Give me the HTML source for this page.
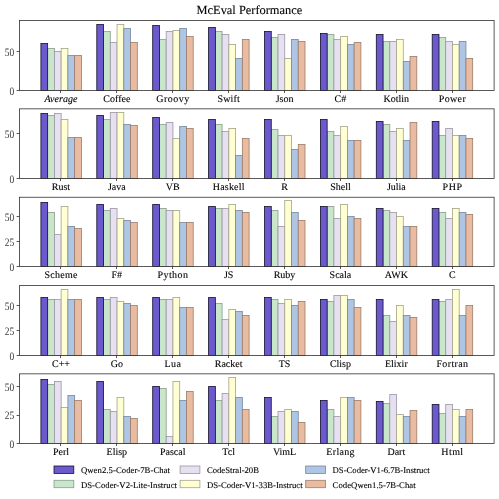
<!DOCTYPE html><html><head><meta charset="utf-8"><title>McEval Performance</title><style>html,body{margin:0;padding:0;background:#fff}svg{display:block}text{text-rendering:geometricPrecision;font-family:"Liberation Serif",serif;fill:#000;stroke:#000;stroke-width:0.1px}.yt{fill:#3a3a3a;stroke:none}</style></head><body>
<svg width="499" height="499" viewBox="0 0 499 499">
<rect width="499" height="499" fill="#fff"/>
<text x="249.4" y="13.5" text-anchor="middle" font-size="12.4">McEval Performance</text>
<rect x="47.65" y="48.50" width="6.75" height="41.95" fill="#C8E6C9" stroke="#8c9c8c" stroke-width="0.8"/>
<rect x="103.55" y="31.50" width="6.75" height="58.95" fill="#C8E6C9" stroke="#8c9c8c" stroke-width="0.8"/>
<rect x="159.45" y="39.50" width="6.75" height="50.95" fill="#C8E6C9" stroke="#8c9c8c" stroke-width="0.8"/>
<rect x="215.35" y="31.50" width="6.75" height="58.95" fill="#C8E6C9" stroke="#8c9c8c" stroke-width="0.8"/>
<rect x="271.25" y="37.50" width="6.75" height="52.95" fill="#C8E6C9" stroke="#8c9c8c" stroke-width="0.8"/>
<rect x="327.15" y="34.50" width="6.75" height="55.95" fill="#C8E6C9" stroke="#8c9c8c" stroke-width="0.8"/>
<rect x="383.05" y="41.50" width="6.75" height="48.95" fill="#C8E6C9" stroke="#8c9c8c" stroke-width="0.8"/>
<rect x="438.95" y="37.50" width="6.75" height="52.95" fill="#C8E6C9" stroke="#8c9c8c" stroke-width="0.8"/>
<rect x="54.40" y="51.50" width="6.75" height="38.95" fill="#E6E0F0" stroke="#9a96a4" stroke-width="0.8"/>
<rect x="110.30" y="42.50" width="6.75" height="47.95" fill="#E6E0F0" stroke="#9a96a4" stroke-width="0.8"/>
<rect x="166.20" y="31.50" width="6.75" height="58.95" fill="#E6E0F0" stroke="#9a96a4" stroke-width="0.8"/>
<rect x="222.10" y="34.50" width="6.75" height="55.95" fill="#E6E0F0" stroke="#9a96a4" stroke-width="0.8"/>
<rect x="278.00" y="34.50" width="6.75" height="55.95" fill="#E6E0F0" stroke="#9a96a4" stroke-width="0.8"/>
<rect x="333.90" y="39.50" width="6.75" height="50.95" fill="#E6E0F0" stroke="#9a96a4" stroke-width="0.8"/>
<rect x="389.80" y="41.50" width="6.75" height="48.95" fill="#E6E0F0" stroke="#9a96a4" stroke-width="0.8"/>
<rect x="445.70" y="41.50" width="6.75" height="48.95" fill="#E6E0F0" stroke="#9a96a4" stroke-width="0.8"/>
<rect x="61.15" y="48.50" width="6.75" height="41.95" fill="#FFFFD2" stroke="#a3a38c" stroke-width="0.8"/>
<rect x="117.05" y="24.50" width="6.75" height="65.95" fill="#FFFFD2" stroke="#a3a38c" stroke-width="0.8"/>
<rect x="172.95" y="30.50" width="6.75" height="59.95" fill="#FFFFD2" stroke="#a3a38c" stroke-width="0.8"/>
<rect x="228.85" y="44.50" width="6.75" height="45.95" fill="#FFFFD2" stroke="#a3a38c" stroke-width="0.8"/>
<rect x="284.75" y="58.50" width="6.75" height="31.95" fill="#FFFFD2" stroke="#a3a38c" stroke-width="0.8"/>
<rect x="340.65" y="36.50" width="6.75" height="53.95" fill="#FFFFD2" stroke="#a3a38c" stroke-width="0.8"/>
<rect x="396.55" y="39.50" width="6.75" height="50.95" fill="#FFFFD2" stroke="#a3a38c" stroke-width="0.8"/>
<rect x="452.45" y="44.50" width="6.75" height="45.95" fill="#FFFFD2" stroke="#a3a38c" stroke-width="0.8"/>
<rect x="67.90" y="55.50" width="6.75" height="34.95" fill="#AEC6E4" stroke="#76869c" stroke-width="0.8"/>
<rect x="123.80" y="28.50" width="6.75" height="61.95" fill="#AEC6E4" stroke="#76869c" stroke-width="0.8"/>
<rect x="179.70" y="28.50" width="6.75" height="61.95" fill="#AEC6E4" stroke="#76869c" stroke-width="0.8"/>
<rect x="235.60" y="58.50" width="6.75" height="31.95" fill="#AEC6E4" stroke="#76869c" stroke-width="0.8"/>
<rect x="291.50" y="39.50" width="6.75" height="50.95" fill="#AEC6E4" stroke="#76869c" stroke-width="0.8"/>
<rect x="347.40" y="44.50" width="6.75" height="45.95" fill="#AEC6E4" stroke="#76869c" stroke-width="0.8"/>
<rect x="403.30" y="61.50" width="6.75" height="28.95" fill="#AEC6E4" stroke="#76869c" stroke-width="0.8"/>
<rect x="459.20" y="41.50" width="6.75" height="48.95" fill="#AEC6E4" stroke="#76869c" stroke-width="0.8"/>
<rect x="74.65" y="55.50" width="6.75" height="34.95" fill="#E9BCA2" stroke="#9a7c6a" stroke-width="0.8"/>
<rect x="130.55" y="42.50" width="6.75" height="47.95" fill="#E9BCA2" stroke="#9a7c6a" stroke-width="0.8"/>
<rect x="186.45" y="36.50" width="6.75" height="53.95" fill="#E9BCA2" stroke="#9a7c6a" stroke-width="0.8"/>
<rect x="242.35" y="39.50" width="6.75" height="50.95" fill="#E9BCA2" stroke="#9a7c6a" stroke-width="0.8"/>
<rect x="298.25" y="41.50" width="6.75" height="48.95" fill="#E9BCA2" stroke="#9a7c6a" stroke-width="0.8"/>
<rect x="354.15" y="42.50" width="6.75" height="47.95" fill="#E9BCA2" stroke="#9a7c6a" stroke-width="0.8"/>
<rect x="410.05" y="56.50" width="6.75" height="33.95" fill="#E9BCA2" stroke="#9a7c6a" stroke-width="0.8"/>
<rect x="465.95" y="58.50" width="6.75" height="31.95" fill="#E9BCA2" stroke="#9a7c6a" stroke-width="0.8"/>
<rect x="40.90" y="43.50" width="6.75" height="46.95" fill="#6A5ACD" stroke="#141028" stroke-width="0.8"/>
<rect x="96.80" y="24.50" width="6.75" height="65.95" fill="#6A5ACD" stroke="#141028" stroke-width="0.8"/>
<rect x="152.70" y="25.50" width="6.75" height="64.95" fill="#6A5ACD" stroke="#141028" stroke-width="0.8"/>
<rect x="208.60" y="27.50" width="6.75" height="62.95" fill="#6A5ACD" stroke="#141028" stroke-width="0.8"/>
<rect x="264.50" y="31.50" width="6.75" height="58.95" fill="#6A5ACD" stroke="#141028" stroke-width="0.8"/>
<rect x="320.40" y="33.50" width="6.75" height="56.95" fill="#6A5ACD" stroke="#141028" stroke-width="0.8"/>
<rect x="376.30" y="34.50" width="6.75" height="55.95" fill="#6A5ACD" stroke="#141028" stroke-width="0.8"/>
<rect x="432.20" y="34.50" width="6.75" height="55.95" fill="#6A5ACD" stroke="#141028" stroke-width="0.8"/>
<rect x="19.5" y="20.45" width="474.60" height="70.00" fill="none" stroke="#303030" stroke-width="0.8"/>
<line x1="60.50" y1="90.45" x2="60.50" y2="93.05" stroke="#303030" stroke-width="0.8"/>
<text x="60.95" y="102.00" text-anchor="middle" font-size="10" font-style="italic">Average</text>
<line x1="116.50" y1="90.45" x2="116.50" y2="93.05" stroke="#303030" stroke-width="0.8"/>
<text x="116.85" y="102.00" text-anchor="middle" font-size="10">Coffee</text>
<line x1="172.50" y1="90.45" x2="172.50" y2="93.05" stroke="#303030" stroke-width="0.8"/>
<text x="172.75" y="102.00" text-anchor="middle" font-size="10" textLength="33.1">Groovy</text>
<line x1="228.50" y1="90.45" x2="228.50" y2="93.05" stroke="#303030" stroke-width="0.8"/>
<text x="228.65" y="102.00" text-anchor="middle" font-size="10" textLength="22.4">Swift</text>
<line x1="284.50" y1="90.45" x2="284.50" y2="93.05" stroke="#303030" stroke-width="0.8"/>
<text x="284.55" y="102.00" text-anchor="middle" font-size="10">Json</text>
<line x1="340.50" y1="90.45" x2="340.50" y2="93.05" stroke="#303030" stroke-width="0.8"/>
<text x="340.45" y="102.00" text-anchor="middle" font-size="10">C#</text>
<line x1="396.50" y1="90.45" x2="396.50" y2="93.05" stroke="#303030" stroke-width="0.8"/>
<text x="396.35" y="102.00" text-anchor="middle" font-size="10">Kotlin</text>
<line x1="452.50" y1="90.45" x2="452.50" y2="93.05" stroke="#303030" stroke-width="0.8"/>
<text x="452.25" y="102.00" text-anchor="middle" font-size="10" textLength="27.0">Power</text>
<line x1="16.60" y1="90.50" x2="19.5" y2="90.50" stroke="#303030" stroke-width="0.8"/>
<text class="yt" transform="translate(14.35,94.60) scale(0.95,1.14)" text-anchor="end" font-size="10">0</text>
<line x1="16.60" y1="51.50" x2="19.5" y2="51.50" stroke="#303030" stroke-width="0.8"/>
<text class="yt" transform="translate(14.35,55.90) scale(0.95,1.14)" text-anchor="end" font-size="10">50</text>
<rect x="47.65" y="115.50" width="6.75" height="62.95" fill="#C8E6C9" stroke="#8c9c8c" stroke-width="0.8"/>
<rect x="103.55" y="119.50" width="6.75" height="58.95" fill="#C8E6C9" stroke="#8c9c8c" stroke-width="0.8"/>
<rect x="159.45" y="124.50" width="6.75" height="53.95" fill="#C8E6C9" stroke="#8c9c8c" stroke-width="0.8"/>
<rect x="215.35" y="124.50" width="6.75" height="53.95" fill="#C8E6C9" stroke="#8c9c8c" stroke-width="0.8"/>
<rect x="271.25" y="129.50" width="6.75" height="48.95" fill="#C8E6C9" stroke="#8c9c8c" stroke-width="0.8"/>
<rect x="327.15" y="131.50" width="6.75" height="46.95" fill="#C8E6C9" stroke="#8c9c8c" stroke-width="0.8"/>
<rect x="383.05" y="124.50" width="6.75" height="53.95" fill="#C8E6C9" stroke="#8c9c8c" stroke-width="0.8"/>
<rect x="438.95" y="135.50" width="6.75" height="42.95" fill="#C8E6C9" stroke="#8c9c8c" stroke-width="0.8"/>
<rect x="54.40" y="113.50" width="6.75" height="64.95" fill="#E6E0F0" stroke="#9a96a4" stroke-width="0.8"/>
<rect x="110.30" y="112.50" width="6.75" height="65.95" fill="#E6E0F0" stroke="#9a96a4" stroke-width="0.8"/>
<rect x="166.20" y="122.50" width="6.75" height="55.95" fill="#E6E0F0" stroke="#9a96a4" stroke-width="0.8"/>
<rect x="222.10" y="131.50" width="6.75" height="46.95" fill="#E6E0F0" stroke="#9a96a4" stroke-width="0.8"/>
<rect x="278.00" y="135.50" width="6.75" height="42.95" fill="#E6E0F0" stroke="#9a96a4" stroke-width="0.8"/>
<rect x="333.90" y="135.50" width="6.75" height="42.95" fill="#E6E0F0" stroke="#9a96a4" stroke-width="0.8"/>
<rect x="389.80" y="131.50" width="6.75" height="46.95" fill="#E6E0F0" stroke="#9a96a4" stroke-width="0.8"/>
<rect x="445.70" y="128.50" width="6.75" height="49.95" fill="#E6E0F0" stroke="#9a96a4" stroke-width="0.8"/>
<rect x="61.15" y="119.50" width="6.75" height="58.95" fill="#FFFFD2" stroke="#a3a38c" stroke-width="0.8"/>
<rect x="117.05" y="112.50" width="6.75" height="65.95" fill="#FFFFD2" stroke="#a3a38c" stroke-width="0.8"/>
<rect x="172.95" y="138.50" width="6.75" height="39.95" fill="#FFFFD2" stroke="#a3a38c" stroke-width="0.8"/>
<rect x="228.85" y="128.50" width="6.75" height="49.95" fill="#FFFFD2" stroke="#a3a38c" stroke-width="0.8"/>
<rect x="284.75" y="135.50" width="6.75" height="42.95" fill="#FFFFD2" stroke="#a3a38c" stroke-width="0.8"/>
<rect x="340.65" y="126.50" width="6.75" height="51.95" fill="#FFFFD2" stroke="#a3a38c" stroke-width="0.8"/>
<rect x="396.55" y="128.50" width="6.75" height="49.95" fill="#FFFFD2" stroke="#a3a38c" stroke-width="0.8"/>
<rect x="452.45" y="135.50" width="6.75" height="42.95" fill="#FFFFD2" stroke="#a3a38c" stroke-width="0.8"/>
<rect x="67.90" y="137.50" width="6.75" height="40.95" fill="#AEC6E4" stroke="#76869c" stroke-width="0.8"/>
<rect x="123.80" y="124.50" width="6.75" height="53.95" fill="#AEC6E4" stroke="#76869c" stroke-width="0.8"/>
<rect x="179.70" y="126.50" width="6.75" height="51.95" fill="#AEC6E4" stroke="#76869c" stroke-width="0.8"/>
<rect x="235.60" y="155.50" width="6.75" height="22.95" fill="#AEC6E4" stroke="#76869c" stroke-width="0.8"/>
<rect x="291.50" y="149.50" width="6.75" height="28.95" fill="#AEC6E4" stroke="#76869c" stroke-width="0.8"/>
<rect x="347.40" y="140.50" width="6.75" height="37.95" fill="#AEC6E4" stroke="#76869c" stroke-width="0.8"/>
<rect x="403.30" y="140.50" width="6.75" height="37.95" fill="#AEC6E4" stroke="#76869c" stroke-width="0.8"/>
<rect x="459.20" y="135.50" width="6.75" height="42.95" fill="#AEC6E4" stroke="#76869c" stroke-width="0.8"/>
<rect x="74.65" y="137.50" width="6.75" height="40.95" fill="#E9BCA2" stroke="#9a7c6a" stroke-width="0.8"/>
<rect x="130.55" y="125.50" width="6.75" height="52.95" fill="#E9BCA2" stroke="#9a7c6a" stroke-width="0.8"/>
<rect x="186.45" y="128.50" width="6.75" height="49.95" fill="#E9BCA2" stroke="#9a7c6a" stroke-width="0.8"/>
<rect x="242.35" y="138.50" width="6.75" height="39.95" fill="#E9BCA2" stroke="#9a7c6a" stroke-width="0.8"/>
<rect x="298.25" y="144.50" width="6.75" height="33.95" fill="#E9BCA2" stroke="#9a7c6a" stroke-width="0.8"/>
<rect x="354.15" y="140.50" width="6.75" height="37.95" fill="#E9BCA2" stroke="#9a7c6a" stroke-width="0.8"/>
<rect x="410.05" y="122.50" width="6.75" height="55.95" fill="#E9BCA2" stroke="#9a7c6a" stroke-width="0.8"/>
<rect x="465.95" y="138.50" width="6.75" height="39.95" fill="#E9BCA2" stroke="#9a7c6a" stroke-width="0.8"/>
<rect x="40.90" y="113.50" width="6.75" height="64.95" fill="#6A5ACD" stroke="#141028" stroke-width="0.8"/>
<rect x="96.80" y="115.50" width="6.75" height="62.95" fill="#6A5ACD" stroke="#141028" stroke-width="0.8"/>
<rect x="152.70" y="117.50" width="6.75" height="60.95" fill="#6A5ACD" stroke="#141028" stroke-width="0.8"/>
<rect x="208.60" y="119.50" width="6.75" height="58.95" fill="#6A5ACD" stroke="#141028" stroke-width="0.8"/>
<rect x="264.50" y="119.50" width="6.75" height="58.95" fill="#6A5ACD" stroke="#141028" stroke-width="0.8"/>
<rect x="320.40" y="119.50" width="6.75" height="58.95" fill="#6A5ACD" stroke="#141028" stroke-width="0.8"/>
<rect x="376.30" y="121.50" width="6.75" height="56.95" fill="#6A5ACD" stroke="#141028" stroke-width="0.8"/>
<rect x="432.20" y="121.50" width="6.75" height="56.95" fill="#6A5ACD" stroke="#141028" stroke-width="0.8"/>
<rect x="19.5" y="108.85" width="474.60" height="69.60" fill="none" stroke="#303030" stroke-width="0.8"/>
<line x1="60.50" y1="178.45" x2="60.50" y2="181.05" stroke="#303030" stroke-width="0.8"/>
<text x="60.95" y="190.00" text-anchor="middle" font-size="10">Rust</text>
<line x1="116.50" y1="178.45" x2="116.50" y2="181.05" stroke="#303030" stroke-width="0.8"/>
<text x="116.85" y="190.00" text-anchor="middle" font-size="10">Java</text>
<line x1="172.50" y1="178.45" x2="172.50" y2="181.05" stroke="#303030" stroke-width="0.8"/>
<text x="172.75" y="190.00" text-anchor="middle" font-size="10">VB</text>
<line x1="228.50" y1="178.45" x2="228.50" y2="181.05" stroke="#303030" stroke-width="0.8"/>
<text x="228.65" y="190.00" text-anchor="middle" font-size="10" textLength="31.7">Haskell</text>
<line x1="284.50" y1="178.45" x2="284.50" y2="181.05" stroke="#303030" stroke-width="0.8"/>
<text x="284.55" y="190.00" text-anchor="middle" font-size="10">R</text>
<line x1="340.50" y1="178.45" x2="340.50" y2="181.05" stroke="#303030" stroke-width="0.8"/>
<text x="340.45" y="190.00" text-anchor="middle" font-size="10">Shell</text>
<line x1="396.50" y1="178.45" x2="396.50" y2="181.05" stroke="#303030" stroke-width="0.8"/>
<text x="396.35" y="190.00" text-anchor="middle" font-size="10">Julia</text>
<line x1="452.50" y1="178.45" x2="452.50" y2="181.05" stroke="#303030" stroke-width="0.8"/>
<text x="452.25" y="190.00" text-anchor="middle" font-size="10" textLength="19.6">PHP</text>
<line x1="16.60" y1="178.50" x2="19.5" y2="178.50" stroke="#303030" stroke-width="0.8"/>
<text class="yt" transform="translate(14.35,182.60) scale(0.95,1.14)" text-anchor="end" font-size="10">0</text>
<line x1="16.60" y1="133.50" x2="19.5" y2="133.50" stroke="#303030" stroke-width="0.8"/>
<text class="yt" transform="translate(14.35,137.90) scale(0.95,1.14)" text-anchor="end" font-size="10">50</text>
<rect x="47.65" y="212.50" width="6.75" height="53.95" fill="#C8E6C9" stroke="#8c9c8c" stroke-width="0.8"/>
<rect x="103.55" y="210.50" width="6.75" height="55.95" fill="#C8E6C9" stroke="#8c9c8c" stroke-width="0.8"/>
<rect x="159.45" y="208.50" width="6.75" height="57.95" fill="#C8E6C9" stroke="#8c9c8c" stroke-width="0.8"/>
<rect x="215.35" y="208.50" width="6.75" height="57.95" fill="#C8E6C9" stroke="#8c9c8c" stroke-width="0.8"/>
<rect x="271.25" y="210.50" width="6.75" height="55.95" fill="#C8E6C9" stroke="#8c9c8c" stroke-width="0.8"/>
<rect x="327.15" y="206.50" width="6.75" height="59.95" fill="#C8E6C9" stroke="#8c9c8c" stroke-width="0.8"/>
<rect x="383.05" y="210.50" width="6.75" height="55.95" fill="#C8E6C9" stroke="#8c9c8c" stroke-width="0.8"/>
<rect x="438.95" y="212.50" width="6.75" height="53.95" fill="#C8E6C9" stroke="#8c9c8c" stroke-width="0.8"/>
<rect x="54.40" y="234.50" width="6.75" height="31.95" fill="#E6E0F0" stroke="#9a96a4" stroke-width="0.8"/>
<rect x="110.30" y="208.50" width="6.75" height="57.95" fill="#E6E0F0" stroke="#9a96a4" stroke-width="0.8"/>
<rect x="166.20" y="210.50" width="6.75" height="55.95" fill="#E6E0F0" stroke="#9a96a4" stroke-width="0.8"/>
<rect x="222.10" y="208.50" width="6.75" height="57.95" fill="#E6E0F0" stroke="#9a96a4" stroke-width="0.8"/>
<rect x="278.00" y="226.50" width="6.75" height="39.95" fill="#E6E0F0" stroke="#9a96a4" stroke-width="0.8"/>
<rect x="333.90" y="218.50" width="6.75" height="47.95" fill="#E6E0F0" stroke="#9a96a4" stroke-width="0.8"/>
<rect x="389.80" y="212.50" width="6.75" height="53.95" fill="#E6E0F0" stroke="#9a96a4" stroke-width="0.8"/>
<rect x="445.70" y="218.50" width="6.75" height="47.95" fill="#E6E0F0" stroke="#9a96a4" stroke-width="0.8"/>
<rect x="61.15" y="206.50" width="6.75" height="59.95" fill="#FFFFD2" stroke="#a3a38c" stroke-width="0.8"/>
<rect x="117.05" y="218.50" width="6.75" height="47.95" fill="#FFFFD2" stroke="#a3a38c" stroke-width="0.8"/>
<rect x="172.95" y="210.50" width="6.75" height="55.95" fill="#FFFFD2" stroke="#a3a38c" stroke-width="0.8"/>
<rect x="228.85" y="204.50" width="6.75" height="61.95" fill="#FFFFD2" stroke="#a3a38c" stroke-width="0.8"/>
<rect x="284.75" y="200.50" width="6.75" height="65.95" fill="#FFFFD2" stroke="#a3a38c" stroke-width="0.8"/>
<rect x="340.65" y="204.50" width="6.75" height="61.95" fill="#FFFFD2" stroke="#a3a38c" stroke-width="0.8"/>
<rect x="396.55" y="216.50" width="6.75" height="49.95" fill="#FFFFD2" stroke="#a3a38c" stroke-width="0.8"/>
<rect x="452.45" y="208.50" width="6.75" height="57.95" fill="#FFFFD2" stroke="#a3a38c" stroke-width="0.8"/>
<rect x="67.90" y="226.50" width="6.75" height="39.95" fill="#AEC6E4" stroke="#76869c" stroke-width="0.8"/>
<rect x="123.80" y="220.50" width="6.75" height="45.95" fill="#AEC6E4" stroke="#76869c" stroke-width="0.8"/>
<rect x="179.70" y="222.50" width="6.75" height="43.95" fill="#AEC6E4" stroke="#76869c" stroke-width="0.8"/>
<rect x="235.60" y="210.50" width="6.75" height="55.95" fill="#AEC6E4" stroke="#76869c" stroke-width="0.8"/>
<rect x="291.50" y="212.50" width="6.75" height="53.95" fill="#AEC6E4" stroke="#76869c" stroke-width="0.8"/>
<rect x="347.40" y="216.50" width="6.75" height="49.95" fill="#AEC6E4" stroke="#76869c" stroke-width="0.8"/>
<rect x="403.30" y="226.50" width="6.75" height="39.95" fill="#AEC6E4" stroke="#76869c" stroke-width="0.8"/>
<rect x="459.20" y="212.50" width="6.75" height="53.95" fill="#AEC6E4" stroke="#76869c" stroke-width="0.8"/>
<rect x="74.65" y="228.50" width="6.75" height="37.95" fill="#E9BCA2" stroke="#9a7c6a" stroke-width="0.8"/>
<rect x="130.55" y="222.50" width="6.75" height="43.95" fill="#E9BCA2" stroke="#9a7c6a" stroke-width="0.8"/>
<rect x="186.45" y="222.50" width="6.75" height="43.95" fill="#E9BCA2" stroke="#9a7c6a" stroke-width="0.8"/>
<rect x="242.35" y="212.50" width="6.75" height="53.95" fill="#E9BCA2" stroke="#9a7c6a" stroke-width="0.8"/>
<rect x="298.25" y="220.50" width="6.75" height="45.95" fill="#E9BCA2" stroke="#9a7c6a" stroke-width="0.8"/>
<rect x="354.15" y="218.50" width="6.75" height="47.95" fill="#E9BCA2" stroke="#9a7c6a" stroke-width="0.8"/>
<rect x="410.05" y="226.50" width="6.75" height="39.95" fill="#E9BCA2" stroke="#9a7c6a" stroke-width="0.8"/>
<rect x="465.95" y="214.50" width="6.75" height="51.95" fill="#E9BCA2" stroke="#9a7c6a" stroke-width="0.8"/>
<rect x="40.90" y="202.50" width="6.75" height="63.95" fill="#6A5ACD" stroke="#141028" stroke-width="0.8"/>
<rect x="96.80" y="204.50" width="6.75" height="61.95" fill="#6A5ACD" stroke="#141028" stroke-width="0.8"/>
<rect x="152.70" y="204.50" width="6.75" height="61.95" fill="#6A5ACD" stroke="#141028" stroke-width="0.8"/>
<rect x="208.60" y="206.50" width="6.75" height="59.95" fill="#6A5ACD" stroke="#141028" stroke-width="0.8"/>
<rect x="264.50" y="206.50" width="6.75" height="59.95" fill="#6A5ACD" stroke="#141028" stroke-width="0.8"/>
<rect x="320.40" y="206.50" width="6.75" height="59.95" fill="#6A5ACD" stroke="#141028" stroke-width="0.8"/>
<rect x="376.30" y="208.50" width="6.75" height="57.95" fill="#6A5ACD" stroke="#141028" stroke-width="0.8"/>
<rect x="432.20" y="208.50" width="6.75" height="57.95" fill="#6A5ACD" stroke="#141028" stroke-width="0.8"/>
<rect x="19.5" y="197.25" width="474.60" height="69.20" fill="none" stroke="#303030" stroke-width="0.8"/>
<line x1="60.50" y1="266.45" x2="60.50" y2="269.05" stroke="#303030" stroke-width="0.8"/>
<text x="60.95" y="278.00" text-anchor="middle" font-size="10" textLength="32.9">Scheme</text>
<line x1="116.50" y1="266.45" x2="116.50" y2="269.05" stroke="#303030" stroke-width="0.8"/>
<text x="116.85" y="278.00" text-anchor="middle" font-size="10">F#</text>
<line x1="172.50" y1="266.45" x2="172.50" y2="269.05" stroke="#303030" stroke-width="0.8"/>
<text x="172.75" y="278.00" text-anchor="middle" font-size="10" textLength="30.3">Python</text>
<line x1="228.50" y1="266.45" x2="228.50" y2="269.05" stroke="#303030" stroke-width="0.8"/>
<text x="228.65" y="278.00" text-anchor="middle" font-size="10">JS</text>
<line x1="284.50" y1="266.45" x2="284.50" y2="269.05" stroke="#303030" stroke-width="0.8"/>
<text x="284.55" y="278.00" text-anchor="middle" font-size="10">Ruby</text>
<line x1="340.50" y1="266.45" x2="340.50" y2="269.05" stroke="#303030" stroke-width="0.8"/>
<text x="340.45" y="278.00" text-anchor="middle" font-size="10">Scala</text>
<line x1="396.50" y1="266.45" x2="396.50" y2="269.05" stroke="#303030" stroke-width="0.8"/>
<text x="396.35" y="278.00" text-anchor="middle" font-size="10">AWK</text>
<line x1="452.50" y1="266.45" x2="452.50" y2="269.05" stroke="#303030" stroke-width="0.8"/>
<text x="452.25" y="278.00" text-anchor="middle" font-size="10">C</text>
<line x1="16.60" y1="266.50" x2="19.5" y2="266.50" stroke="#303030" stroke-width="0.8"/>
<text class="yt" transform="translate(14.35,270.60) scale(0.95,1.14)" text-anchor="end" font-size="10">0</text>
<line x1="16.60" y1="241.50" x2="19.5" y2="241.50" stroke="#303030" stroke-width="0.8"/>
<text class="yt" transform="translate(14.35,245.70) scale(0.95,1.14)" text-anchor="end" font-size="10">25</text>
<line x1="16.60" y1="216.50" x2="19.5" y2="216.50" stroke="#303030" stroke-width="0.8"/>
<text class="yt" transform="translate(14.35,220.80) scale(0.95,1.14)" text-anchor="end" font-size="10">50</text>
<rect x="47.65" y="299.50" width="6.75" height="56.00" fill="#C8E6C9" stroke="#8c9c8c" stroke-width="0.8"/>
<rect x="103.55" y="299.50" width="6.75" height="56.00" fill="#C8E6C9" stroke="#8c9c8c" stroke-width="0.8"/>
<rect x="159.45" y="299.50" width="6.75" height="56.00" fill="#C8E6C9" stroke="#8c9c8c" stroke-width="0.8"/>
<rect x="215.35" y="303.50" width="6.75" height="52.00" fill="#C8E6C9" stroke="#8c9c8c" stroke-width="0.8"/>
<rect x="271.25" y="299.50" width="6.75" height="56.00" fill="#C8E6C9" stroke="#8c9c8c" stroke-width="0.8"/>
<rect x="327.15" y="301.50" width="6.75" height="54.00" fill="#C8E6C9" stroke="#8c9c8c" stroke-width="0.8"/>
<rect x="383.05" y="315.50" width="6.75" height="40.00" fill="#C8E6C9" stroke="#8c9c8c" stroke-width="0.8"/>
<rect x="438.95" y="301.50" width="6.75" height="54.00" fill="#C8E6C9" stroke="#8c9c8c" stroke-width="0.8"/>
<rect x="54.40" y="299.50" width="6.75" height="56.00" fill="#E6E0F0" stroke="#9a96a4" stroke-width="0.8"/>
<rect x="110.30" y="297.50" width="6.75" height="58.00" fill="#E6E0F0" stroke="#9a96a4" stroke-width="0.8"/>
<rect x="166.20" y="299.50" width="6.75" height="56.00" fill="#E6E0F0" stroke="#9a96a4" stroke-width="0.8"/>
<rect x="222.10" y="319.50" width="6.75" height="36.00" fill="#E6E0F0" stroke="#9a96a4" stroke-width="0.8"/>
<rect x="278.00" y="303.50" width="6.75" height="52.00" fill="#E6E0F0" stroke="#9a96a4" stroke-width="0.8"/>
<rect x="333.90" y="295.50" width="6.75" height="60.00" fill="#E6E0F0" stroke="#9a96a4" stroke-width="0.8"/>
<rect x="389.80" y="321.50" width="6.75" height="34.00" fill="#E6E0F0" stroke="#9a96a4" stroke-width="0.8"/>
<rect x="445.70" y="299.50" width="6.75" height="56.00" fill="#E6E0F0" stroke="#9a96a4" stroke-width="0.8"/>
<rect x="61.15" y="289.50" width="6.75" height="66.00" fill="#FFFFD2" stroke="#a3a38c" stroke-width="0.8"/>
<rect x="117.05" y="301.50" width="6.75" height="54.00" fill="#FFFFD2" stroke="#a3a38c" stroke-width="0.8"/>
<rect x="172.95" y="297.50" width="6.75" height="58.00" fill="#FFFFD2" stroke="#a3a38c" stroke-width="0.8"/>
<rect x="228.85" y="309.50" width="6.75" height="46.00" fill="#FFFFD2" stroke="#a3a38c" stroke-width="0.8"/>
<rect x="284.75" y="299.50" width="6.75" height="56.00" fill="#FFFFD2" stroke="#a3a38c" stroke-width="0.8"/>
<rect x="340.65" y="295.50" width="6.75" height="60.00" fill="#FFFFD2" stroke="#a3a38c" stroke-width="0.8"/>
<rect x="396.55" y="305.50" width="6.75" height="50.00" fill="#FFFFD2" stroke="#a3a38c" stroke-width="0.8"/>
<rect x="452.45" y="289.50" width="6.75" height="66.00" fill="#FFFFD2" stroke="#a3a38c" stroke-width="0.8"/>
<rect x="67.90" y="299.50" width="6.75" height="56.00" fill="#AEC6E4" stroke="#76869c" stroke-width="0.8"/>
<rect x="123.80" y="303.50" width="6.75" height="52.00" fill="#AEC6E4" stroke="#76869c" stroke-width="0.8"/>
<rect x="179.70" y="307.50" width="6.75" height="48.00" fill="#AEC6E4" stroke="#76869c" stroke-width="0.8"/>
<rect x="235.60" y="311.50" width="6.75" height="44.00" fill="#AEC6E4" stroke="#76869c" stroke-width="0.8"/>
<rect x="291.50" y="305.50" width="6.75" height="50.00" fill="#AEC6E4" stroke="#76869c" stroke-width="0.8"/>
<rect x="347.40" y="299.50" width="6.75" height="56.00" fill="#AEC6E4" stroke="#76869c" stroke-width="0.8"/>
<rect x="403.30" y="315.50" width="6.75" height="40.00" fill="#AEC6E4" stroke="#76869c" stroke-width="0.8"/>
<rect x="459.20" y="315.50" width="6.75" height="40.00" fill="#AEC6E4" stroke="#76869c" stroke-width="0.8"/>
<rect x="74.65" y="299.50" width="6.75" height="56.00" fill="#E9BCA2" stroke="#9a7c6a" stroke-width="0.8"/>
<rect x="130.55" y="305.50" width="6.75" height="50.00" fill="#E9BCA2" stroke="#9a7c6a" stroke-width="0.8"/>
<rect x="186.45" y="307.50" width="6.75" height="48.00" fill="#E9BCA2" stroke="#9a7c6a" stroke-width="0.8"/>
<rect x="242.35" y="315.50" width="6.75" height="40.00" fill="#E9BCA2" stroke="#9a7c6a" stroke-width="0.8"/>
<rect x="298.25" y="301.50" width="6.75" height="54.00" fill="#E9BCA2" stroke="#9a7c6a" stroke-width="0.8"/>
<rect x="354.15" y="307.50" width="6.75" height="48.00" fill="#E9BCA2" stroke="#9a7c6a" stroke-width="0.8"/>
<rect x="410.05" y="317.50" width="6.75" height="38.00" fill="#E9BCA2" stroke="#9a7c6a" stroke-width="0.8"/>
<rect x="465.95" y="305.50" width="6.75" height="50.00" fill="#E9BCA2" stroke="#9a7c6a" stroke-width="0.8"/>
<rect x="40.90" y="297.50" width="6.75" height="58.00" fill="#6A5ACD" stroke="#141028" stroke-width="0.8"/>
<rect x="96.80" y="297.50" width="6.75" height="58.00" fill="#6A5ACD" stroke="#141028" stroke-width="0.8"/>
<rect x="152.70" y="297.50" width="6.75" height="58.00" fill="#6A5ACD" stroke="#141028" stroke-width="0.8"/>
<rect x="208.60" y="297.50" width="6.75" height="58.00" fill="#6A5ACD" stroke="#141028" stroke-width="0.8"/>
<rect x="264.50" y="297.50" width="6.75" height="58.00" fill="#6A5ACD" stroke="#141028" stroke-width="0.8"/>
<rect x="320.40" y="299.50" width="6.75" height="56.00" fill="#6A5ACD" stroke="#141028" stroke-width="0.8"/>
<rect x="376.30" y="299.50" width="6.75" height="56.00" fill="#6A5ACD" stroke="#141028" stroke-width="0.8"/>
<rect x="432.20" y="299.50" width="6.75" height="56.00" fill="#6A5ACD" stroke="#141028" stroke-width="0.8"/>
<rect x="19.5" y="285.60" width="474.60" height="69.90" fill="none" stroke="#303030" stroke-width="0.8"/>
<line x1="60.50" y1="355.50" x2="60.50" y2="358.10" stroke="#303030" stroke-width="0.8"/>
<text x="60.95" y="367.05" text-anchor="middle" font-size="10">C++</text>
<line x1="116.50" y1="355.50" x2="116.50" y2="358.10" stroke="#303030" stroke-width="0.8"/>
<text x="116.85" y="367.05" text-anchor="middle" font-size="10">Go</text>
<line x1="172.50" y1="355.50" x2="172.50" y2="358.10" stroke="#303030" stroke-width="0.8"/>
<text x="172.75" y="367.05" text-anchor="middle" font-size="10" textLength="16.6">Lua</text>
<line x1="228.50" y1="355.50" x2="228.50" y2="358.10" stroke="#303030" stroke-width="0.8"/>
<text x="228.65" y="367.05" text-anchor="middle" font-size="10">Racket</text>
<line x1="284.50" y1="355.50" x2="284.50" y2="358.10" stroke="#303030" stroke-width="0.8"/>
<text x="284.55" y="367.05" text-anchor="middle" font-size="10">TS</text>
<line x1="340.50" y1="355.50" x2="340.50" y2="358.10" stroke="#303030" stroke-width="0.8"/>
<text x="340.45" y="367.05" text-anchor="middle" font-size="10">Clisp</text>
<line x1="396.50" y1="355.50" x2="396.50" y2="358.10" stroke="#303030" stroke-width="0.8"/>
<text x="396.35" y="367.05" text-anchor="middle" font-size="10">Elixir</text>
<line x1="452.50" y1="355.50" x2="452.50" y2="358.10" stroke="#303030" stroke-width="0.8"/>
<text x="452.25" y="367.05" text-anchor="middle" font-size="10" textLength="31.7">Fortran</text>
<line x1="16.60" y1="355.50" x2="19.5" y2="355.50" stroke="#303030" stroke-width="0.8"/>
<text class="yt" transform="translate(14.35,359.65) scale(0.95,1.14)" text-anchor="end" font-size="10">0</text>
<line x1="16.60" y1="330.50" x2="19.5" y2="330.50" stroke="#303030" stroke-width="0.8"/>
<text class="yt" transform="translate(14.35,334.70) scale(0.95,1.14)" text-anchor="end" font-size="10">25</text>
<line x1="16.60" y1="305.50" x2="19.5" y2="305.50" stroke="#303030" stroke-width="0.8"/>
<text class="yt" transform="translate(14.35,309.75) scale(0.95,1.14)" text-anchor="end" font-size="10">50</text>
<rect x="47.65" y="384.50" width="6.75" height="58.95" fill="#C8E6C9" stroke="#8c9c8c" stroke-width="0.8"/>
<rect x="103.55" y="409.50" width="6.75" height="33.95" fill="#C8E6C9" stroke="#8c9c8c" stroke-width="0.8"/>
<rect x="159.45" y="388.50" width="6.75" height="54.95" fill="#C8E6C9" stroke="#8c9c8c" stroke-width="0.8"/>
<rect x="215.35" y="400.50" width="6.75" height="42.95" fill="#C8E6C9" stroke="#8c9c8c" stroke-width="0.8"/>
<rect x="271.25" y="416.50" width="6.75" height="26.95" fill="#C8E6C9" stroke="#8c9c8c" stroke-width="0.8"/>
<rect x="327.15" y="409.50" width="6.75" height="33.95" fill="#C8E6C9" stroke="#8c9c8c" stroke-width="0.8"/>
<rect x="383.05" y="403.50" width="6.75" height="39.95" fill="#C8E6C9" stroke="#8c9c8c" stroke-width="0.8"/>
<rect x="438.95" y="413.50" width="6.75" height="29.95" fill="#C8E6C9" stroke="#8c9c8c" stroke-width="0.8"/>
<rect x="54.40" y="381.50" width="6.75" height="61.95" fill="#E6E0F0" stroke="#9a96a4" stroke-width="0.8"/>
<rect x="110.30" y="411.50" width="6.75" height="31.95" fill="#E6E0F0" stroke="#9a96a4" stroke-width="0.8"/>
<rect x="166.20" y="436.50" width="6.75" height="6.95" fill="#E6E0F0" stroke="#9a96a4" stroke-width="0.8"/>
<rect x="222.10" y="393.50" width="6.75" height="49.95" fill="#E6E0F0" stroke="#9a96a4" stroke-width="0.8"/>
<rect x="278.00" y="411.50" width="6.75" height="31.95" fill="#E6E0F0" stroke="#9a96a4" stroke-width="0.8"/>
<rect x="333.90" y="416.50" width="6.75" height="26.95" fill="#E6E0F0" stroke="#9a96a4" stroke-width="0.8"/>
<rect x="389.80" y="394.50" width="6.75" height="48.95" fill="#E6E0F0" stroke="#9a96a4" stroke-width="0.8"/>
<rect x="445.70" y="404.50" width="6.75" height="38.95" fill="#E6E0F0" stroke="#9a96a4" stroke-width="0.8"/>
<rect x="61.15" y="407.50" width="6.75" height="35.95" fill="#FFFFD2" stroke="#a3a38c" stroke-width="0.8"/>
<rect x="117.05" y="397.50" width="6.75" height="45.95" fill="#FFFFD2" stroke="#a3a38c" stroke-width="0.8"/>
<rect x="172.95" y="381.50" width="6.75" height="61.95" fill="#FFFFD2" stroke="#a3a38c" stroke-width="0.8"/>
<rect x="228.85" y="377.50" width="6.75" height="65.95" fill="#FFFFD2" stroke="#a3a38c" stroke-width="0.8"/>
<rect x="284.75" y="409.50" width="6.75" height="33.95" fill="#FFFFD2" stroke="#a3a38c" stroke-width="0.8"/>
<rect x="340.65" y="397.50" width="6.75" height="45.95" fill="#FFFFD2" stroke="#a3a38c" stroke-width="0.8"/>
<rect x="396.55" y="414.50" width="6.75" height="28.95" fill="#FFFFD2" stroke="#a3a38c" stroke-width="0.8"/>
<rect x="452.45" y="409.50" width="6.75" height="33.95" fill="#FFFFD2" stroke="#a3a38c" stroke-width="0.8"/>
<rect x="67.90" y="395.50" width="6.75" height="47.95" fill="#AEC6E4" stroke="#76869c" stroke-width="0.8"/>
<rect x="123.80" y="416.50" width="6.75" height="26.95" fill="#AEC6E4" stroke="#76869c" stroke-width="0.8"/>
<rect x="179.70" y="400.50" width="6.75" height="42.95" fill="#AEC6E4" stroke="#76869c" stroke-width="0.8"/>
<rect x="235.60" y="397.50" width="6.75" height="45.95" fill="#AEC6E4" stroke="#76869c" stroke-width="0.8"/>
<rect x="291.50" y="411.50" width="6.75" height="31.95" fill="#AEC6E4" stroke="#76869c" stroke-width="0.8"/>
<rect x="347.40" y="397.50" width="6.75" height="45.95" fill="#AEC6E4" stroke="#76869c" stroke-width="0.8"/>
<rect x="403.30" y="416.50" width="6.75" height="26.95" fill="#AEC6E4" stroke="#76869c" stroke-width="0.8"/>
<rect x="459.20" y="416.50" width="6.75" height="26.95" fill="#AEC6E4" stroke="#76869c" stroke-width="0.8"/>
<rect x="74.65" y="400.50" width="6.75" height="42.95" fill="#E9BCA2" stroke="#9a7c6a" stroke-width="0.8"/>
<rect x="130.55" y="418.50" width="6.75" height="24.95" fill="#E9BCA2" stroke="#9a7c6a" stroke-width="0.8"/>
<rect x="186.45" y="391.50" width="6.75" height="51.95" fill="#E9BCA2" stroke="#9a7c6a" stroke-width="0.8"/>
<rect x="242.35" y="409.50" width="6.75" height="33.95" fill="#E9BCA2" stroke="#9a7c6a" stroke-width="0.8"/>
<rect x="298.25" y="422.50" width="6.75" height="20.95" fill="#E9BCA2" stroke="#9a7c6a" stroke-width="0.8"/>
<rect x="354.15" y="400.50" width="6.75" height="42.95" fill="#E9BCA2" stroke="#9a7c6a" stroke-width="0.8"/>
<rect x="410.05" y="410.50" width="6.75" height="32.95" fill="#E9BCA2" stroke="#9a7c6a" stroke-width="0.8"/>
<rect x="465.95" y="409.50" width="6.75" height="33.95" fill="#E9BCA2" stroke="#9a7c6a" stroke-width="0.8"/>
<rect x="40.90" y="379.50" width="6.75" height="63.95" fill="#6A5ACD" stroke="#141028" stroke-width="0.8"/>
<rect x="96.80" y="381.50" width="6.75" height="61.95" fill="#6A5ACD" stroke="#141028" stroke-width="0.8"/>
<rect x="152.70" y="386.50" width="6.75" height="56.95" fill="#6A5ACD" stroke="#141028" stroke-width="0.8"/>
<rect x="208.60" y="386.50" width="6.75" height="56.95" fill="#6A5ACD" stroke="#141028" stroke-width="0.8"/>
<rect x="264.50" y="397.50" width="6.75" height="45.95" fill="#6A5ACD" stroke="#141028" stroke-width="0.8"/>
<rect x="320.40" y="400.50" width="6.75" height="42.95" fill="#6A5ACD" stroke="#141028" stroke-width="0.8"/>
<rect x="376.30" y="401.50" width="6.75" height="41.95" fill="#6A5ACD" stroke="#141028" stroke-width="0.8"/>
<rect x="432.20" y="404.50" width="6.75" height="38.95" fill="#6A5ACD" stroke="#141028" stroke-width="0.8"/>
<rect x="19.5" y="373.85" width="474.60" height="69.60" fill="none" stroke="#303030" stroke-width="0.8"/>
<line x1="60.50" y1="443.45" x2="60.50" y2="446.05" stroke="#303030" stroke-width="0.8"/>
<text x="60.95" y="455.00" text-anchor="middle" font-size="10">Perl</text>
<line x1="116.50" y1="443.45" x2="116.50" y2="446.05" stroke="#303030" stroke-width="0.8"/>
<text x="116.85" y="455.00" text-anchor="middle" font-size="10">Elisp</text>
<line x1="172.50" y1="443.45" x2="172.50" y2="446.05" stroke="#303030" stroke-width="0.8"/>
<text x="172.75" y="455.00" text-anchor="middle" font-size="10">Pascal</text>
<line x1="228.50" y1="443.45" x2="228.50" y2="446.05" stroke="#303030" stroke-width="0.8"/>
<text x="228.65" y="455.00" text-anchor="middle" font-size="10">Tcl</text>
<line x1="284.50" y1="443.45" x2="284.50" y2="446.05" stroke="#303030" stroke-width="0.8"/>
<text x="284.55" y="455.00" text-anchor="middle" font-size="10">VimL</text>
<line x1="340.50" y1="443.45" x2="340.50" y2="446.05" stroke="#303030" stroke-width="0.8"/>
<text x="340.45" y="455.00" text-anchor="middle" font-size="10" textLength="28.3">Erlang</text>
<line x1="396.50" y1="443.45" x2="396.50" y2="446.05" stroke="#303030" stroke-width="0.8"/>
<text x="396.35" y="455.00" text-anchor="middle" font-size="10">Dart</text>
<line x1="452.50" y1="443.45" x2="452.50" y2="446.05" stroke="#303030" stroke-width="0.8"/>
<text x="452.25" y="455.00" text-anchor="middle" font-size="10" textLength="21.8">Html</text>
<line x1="16.60" y1="443.50" x2="19.5" y2="443.50" stroke="#303030" stroke-width="0.8"/>
<text class="yt" transform="translate(14.35,447.60) scale(0.95,1.14)" text-anchor="end" font-size="10">0</text>
<line x1="16.60" y1="415.50" x2="19.5" y2="415.50" stroke="#303030" stroke-width="0.8"/>
<text class="yt" transform="translate(14.35,419.15) scale(0.95,1.14)" text-anchor="end" font-size="10">25</text>
<line x1="16.60" y1="386.50" x2="19.5" y2="386.50" stroke="#303030" stroke-width="0.8"/>
<text class="yt" transform="translate(14.35,390.70) scale(0.95,1.14)" text-anchor="end" font-size="10">50</text>
<rect x="54.0" y="466.0" width="19.8" height="7.4" fill="#6A5ACD" stroke="#141028" stroke-width="0.8"/>
<text x="80.9" y="473.0" font-size="8.7" textLength="89.1">Qwen2.5-Coder-7B-Chat</text>
<rect x="54.0" y="480.3" width="19.8" height="7.4" fill="#C8E6C9" stroke="#8c9c8c" stroke-width="0.8"/>
<text x="80.9" y="487.8" font-size="8.7" textLength="96.1">DS-Coder-V2-Lite-Instruct</text>
<rect x="180.1" y="466.0" width="19.8" height="7.4" fill="#E6E0F0" stroke="#9a96a4" stroke-width="0.8"/>
<text x="206.9" y="473.0" font-size="8.7" textLength="52.1">CodeStral-20B</text>
<rect x="180.1" y="480.3" width="19.8" height="7.4" fill="#FFFFD2" stroke="#a3a38c" stroke-width="0.8"/>
<text x="206.9" y="487.8" font-size="8.7" textLength="95.7">DS-Coder-V1-33B-Instruct</text>
<rect x="305.7" y="466.0" width="19.8" height="7.4" fill="#AEC6E4" stroke="#76869c" stroke-width="0.8"/>
<text x="332.6" y="473.0" font-size="8.7" textLength="97.0">DS-Coder-V1-6.7B-Instruct</text>
<rect x="305.7" y="480.3" width="19.8" height="7.4" fill="#E9BCA2" stroke="#9a7c6a" stroke-width="0.8"/>
<text x="332.6" y="487.8" font-size="8.7" textLength="83.0">CodeQwen1.5-7B-Chat</text>
</svg></body></html>
